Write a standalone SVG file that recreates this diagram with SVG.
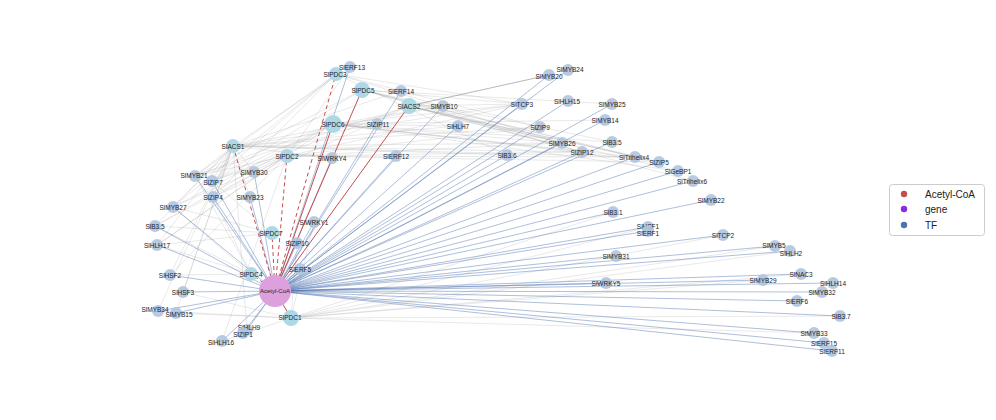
<svg xmlns="http://www.w3.org/2000/svg" width="996" height="420" viewBox="0 0 996 420">
<style>
.g{stroke:#9a9a9a;stroke-opacity:.28;stroke-width:.8}
.gd{stroke:#888;stroke-opacity:.6;stroke-width:1}
.b{stroke:#4c72b0;stroke-opacity:.5;stroke-width:.9}
.r{stroke:#c44e52;stroke-width:1}
.rd{stroke:#c44e52;stroke-width:1;stroke-dasharray:4 3}
.gene{fill:#add8e6}
.tf{fill:#b0c4de;fill-opacity:.9}
.ac{fill:#dda0dd}
text{font-family:"Liberation Sans",Arial,sans-serif;font-size:6.5px;fill:#222;text-anchor:middle}
.lg{font-size:10px;text-anchor:start;fill:#222}
</style>
<rect width="996" height="420" fill="#fff"/>
<g id="connectors">
<g id="gray-edges">
<line class="g" x1="233" y1="146" x2="195" y2="176"/><line class="g" x1="233" y1="146" x2="212" y2="181"/><line class="g" x1="233" y1="146" x2="213" y2="197"/><line class="g" x1="233" y1="146" x2="173" y2="207"/><line class="g" x1="233" y1="146" x2="155" y2="226"/><line class="g" x1="233" y1="146" x2="157" y2="245"/><line class="g" x1="233" y1="146" x2="170" y2="275"/><line class="g" x1="233" y1="146" x2="183" y2="292"/><line class="g" x1="233" y1="146" x2="158" y2="311"/><line class="g" x1="233" y1="146" x2="176" y2="313"/><line class="g" x1="233" y1="146" x2="254" y2="172"/><line class="g" x1="233" y1="146" x2="250" y2="197"/><line class="g" x1="233" y1="146" x2="522" y2="104"/><line class="g" x1="233" y1="146" x2="540" y2="127"/><line class="g" x1="233" y1="146" x2="562" y2="143"/><line class="g" x1="233" y1="146" x2="507" y2="155"/><line class="g" x1="233" y1="146" x2="458" y2="126"/><line class="g" x1="233" y1="146" x2="443" y2="106"/><line class="g" x1="233" y1="146" x2="582" y2="152"/><line class="g" x1="233" y1="146" x2="635" y2="157"/><line class="g" x1="233" y1="146" x2="401" y2="91"/><line class="g" x1="233" y1="146" x2="350" y2="67"/><line class="g" x1="233" y1="146" x2="332" y2="158"/><line class="g" x1="233" y1="146" x2="247" y2="330"/>
<line class="g" x1="287" y1="156" x2="195" y2="176"/><line class="g" x1="287" y1="156" x2="212" y2="181"/><line class="g" x1="287" y1="156" x2="213" y2="197"/><line class="g" x1="287" y1="156" x2="173" y2="207"/><line class="g" x1="287" y1="156" x2="155" y2="226"/><line class="g" x1="287" y1="156" x2="157" y2="245"/><line class="g" x1="287" y1="156" x2="170" y2="275"/><line class="g" x1="287" y1="156" x2="522" y2="104"/><line class="g" x1="287" y1="156" x2="540" y2="127"/><line class="g" x1="287" y1="156" x2="562" y2="143"/><line class="g" x1="287" y1="156" x2="582" y2="152"/><line class="g" x1="287" y1="156" x2="635" y2="157"/><line class="g" x1="287" y1="156" x2="659" y2="162"/><line class="g" x1="287" y1="156" x2="350" y2="67"/><line class="g" x1="287" y1="156" x2="222" y2="341"/>
<line class="g" x1="333" y1="124" x2="195" y2="176"/><line class="g" x1="333" y1="124" x2="212" y2="181"/><line class="g" x1="333" y1="124" x2="173" y2="207"/><line class="g" x1="333" y1="124" x2="155" y2="226"/><line class="g" x1="333" y1="124" x2="157" y2="245"/><line class="g" x1="333" y1="124" x2="522" y2="104"/><line class="g" x1="333" y1="124" x2="562" y2="143"/><line class="g" x1="333" y1="124" x2="582" y2="152"/><line class="g" x1="333" y1="124" x2="635" y2="157"/><line class="g" x1="333" y1="124" x2="659" y2="162"/><line class="g" x1="333" y1="124" x2="678" y2="171"/><line class="g" x1="333" y1="124" x2="612" y2="142"/><line class="g" x1="333" y1="124" x2="605" y2="120"/><line class="g" x1="333" y1="124" x2="458" y2="126"/><line class="g" x1="333" y1="124" x2="443" y2="106"/>
<line class="g" x1="336" y1="74" x2="195" y2="176"/><line class="g" x1="336" y1="74" x2="212" y2="181"/><line class="g" x1="336" y1="74" x2="213" y2="197"/><line class="g" x1="336" y1="74" x2="173" y2="207"/><line class="g" x1="336" y1="74" x2="522" y2="104"/><line class="g" x1="336" y1="74" x2="540" y2="127"/><line class="g" x1="336" y1="74" x2="562" y2="143"/><line class="g" x1="336" y1="74" x2="507" y2="155"/>
<line class="g" x1="362" y1="90" x2="195" y2="176"/><line class="g" x1="362" y1="90" x2="212" y2="181"/><line class="g" x1="362" y1="90" x2="522" y2="104"/><line class="g" x1="362" y1="90" x2="562" y2="143"/><line class="g" x1="362" y1="90" x2="582" y2="152"/><line class="g" x1="362" y1="90" x2="635" y2="157"/><line class="g" x1="362" y1="90" x2="612" y2="142"/><line class="g" x1="362" y1="90" x2="659" y2="162"/><line class="g" x1="362" y1="90" x2="612" y2="104"/>
<line class="gd" x1="409" y1="106" x2="549" y2="75"/><line class="g" x1="409" y1="106" x2="522" y2="104"/><line class="g" x1="409" y1="106" x2="562" y2="143"/><line class="g" x1="409" y1="106" x2="582" y2="152"/><line class="g" x1="409" y1="106" x2="635" y2="157"/><line class="g" x1="409" y1="106" x2="659" y2="162"/><line class="g" x1="409" y1="106" x2="678" y2="171"/><line class="g" x1="409" y1="106" x2="693" y2="181"/><line class="g" x1="409" y1="106" x2="195" y2="176"/><line class="g" x1="409" y1="106" x2="212" y2="181"/><line class="g" x1="409" y1="106" x2="213" y2="197"/>
<line class="g" x1="291" y1="318" x2="763" y2="280"/><line class="g" x1="291" y1="318" x2="801" y2="274"/><line class="g" x1="291" y1="318" x2="775" y2="246"/><line class="g" x1="291" y1="318" x2="790" y2="251"/><line class="g" x1="291" y1="318" x2="814" y2="333"/><line class="g" x1="291" y1="318" x2="840" y2="316"/><line class="g" x1="291" y1="318" x2="723" y2="235"/><line class="g" x1="291" y1="318" x2="613" y2="212"/><line class="g" x1="291" y1="318" x2="648" y2="227"/><line class="g" x1="291" y1="318" x2="158" y2="311"/><line class="g" x1="291" y1="318" x2="176" y2="313"/><line class="g" x1="291" y1="318" x2="222" y2="341"/><line class="g" x1="291" y1="318" x2="183" y2="292"/><line class="g" x1="291" y1="318" x2="314" y2="222"/><line class="g" x1="291" y1="318" x2="297" y2="243"/>
<line class="g" x1="251" y1="274" x2="170" y2="275"/><line class="g" x1="251" y1="274" x2="195" y2="176"/><line class="g" x1="251" y1="274" x2="213" y2="197"/><line class="g" x1="251" y1="274" x2="155" y2="226"/><line class="g" x1="251" y1="274" x2="157" y2="245"/><line class="g" x1="251" y1="274" x2="173" y2="207"/>
<line class="g" x1="272" y1="233" x2="173" y2="207"/><line class="g" x1="272" y1="233" x2="157" y2="245"/><line class="g" x1="272" y1="233" x2="155" y2="226"/><line class="g" x1="272" y1="233" x2="212" y2="181"/>
</g>
<g id="blue-edges">
<line class="b" x1="275" y1="291" x2="350" y2="67"/><line class="b" x1="275" y1="291" x2="401" y2="91"/><line class="b" x1="275" y1="291" x2="443" y2="106"/><line class="b" x1="275" y1="291" x2="377" y2="124"/><line class="b" x1="275" y1="291" x2="458" y2="126"/><line class="b" x1="275" y1="291" x2="332" y2="158"/><line class="b" x1="275" y1="291" x2="396" y2="156"/><line class="b" x1="275" y1="291" x2="507" y2="155"/><line class="b" x1="275" y1="291" x2="549" y2="75"/><line class="b" x1="275" y1="291" x2="568" y2="70"/><line class="b" x1="275" y1="291" x2="522" y2="104"/><line class="b" x1="275" y1="291" x2="568" y2="101"/><line class="b" x1="275" y1="291" x2="612" y2="104"/><line class="b" x1="275" y1="291" x2="605" y2="120"/><line class="b" x1="275" y1="291" x2="540" y2="127"/><line class="b" x1="275" y1="291" x2="562" y2="143"/><line class="b" x1="275" y1="291" x2="612" y2="142"/><line class="b" x1="275" y1="291" x2="582" y2="152"/><line class="b" x1="275" y1="291" x2="635" y2="157"/><line class="b" x1="275" y1="291" x2="659" y2="162"/><line class="b" x1="275" y1="291" x2="678" y2="171"/><line class="b" x1="275" y1="291" x2="693" y2="181"/><line class="b" x1="275" y1="291" x2="711" y2="200"/><line class="b" x1="275" y1="291" x2="613" y2="212"/><line class="b" x1="275" y1="291" x2="648" y2="227"/><line class="b" x1="275" y1="291" x2="648" y2="231"/><line class="b" x1="275" y1="291" x2="723" y2="235"/><line class="b" x1="275" y1="291" x2="775" y2="246"/><line class="b" x1="275" y1="291" x2="790" y2="251"/><line class="b" x1="275" y1="291" x2="616" y2="256"/><line class="b" x1="275" y1="291" x2="801" y2="274"/><line class="b" x1="275" y1="291" x2="763" y2="280"/><line class="b" x1="275" y1="291" x2="833" y2="283"/><line class="b" x1="275" y1="291" x2="822" y2="292"/><line class="b" x1="275" y1="291" x2="606" y2="283"/><line class="b" x1="275" y1="291" x2="797" y2="301"/><line class="b" x1="275" y1="291" x2="840" y2="316"/><line class="b" x1="275" y1="291" x2="814" y2="333"/><line class="b" x1="275" y1="291" x2="824" y2="343"/><line class="b" x1="275" y1="291" x2="832" y2="351"/><line class="b" x1="275" y1="291" x2="254" y2="172"/><line class="b" x1="275" y1="291" x2="195" y2="176"/><line class="b" x1="275" y1="291" x2="212" y2="181"/><line class="b" x1="275" y1="291" x2="213" y2="197"/><line class="b" x1="275" y1="291" x2="250" y2="197"/><line class="b" x1="275" y1="291" x2="173" y2="207"/><line class="b" x1="275" y1="291" x2="155" y2="226"/><line class="b" x1="275" y1="291" x2="157" y2="245"/><line class="b" x1="275" y1="291" x2="314" y2="222"/><line class="b" x1="275" y1="291" x2="297" y2="243"/><line class="b" x1="275" y1="291" x2="300" y2="269"/><line class="b" x1="275" y1="291" x2="170" y2="275"/><line class="b" x1="275" y1="291" x2="183" y2="292"/><line class="b" x1="275" y1="291" x2="158" y2="311"/><line class="b" x1="275" y1="291" x2="176" y2="313"/><line class="b" x1="275" y1="291" x2="247" y2="330"/><line class="b" x1="275" y1="291" x2="243" y2="333"/><line class="b" x1="275" y1="291" x2="222" y2="341"/>
</g>
<g id="red-edges">
<line class="r" x1="275" y1="291" x2="362" y2="90"/><line class="r" x1="275" y1="291" x2="333" y2="124"/><line class="r" x1="275" y1="291" x2="409" y2="106"/><line class="r" x1="275" y1="291" x2="291" y2="318"/>
<line class="rd" x1="275" y1="291" x2="336" y2="74"/><line class="rd" x1="275" y1="291" x2="233" y2="146"/><line class="rd" x1="275" y1="291" x2="287" y2="156"/><line class="rd" x1="275" y1="291" x2="272" y2="233"/><line class="rd" x1="275" y1="291" x2="251" y2="274"/>
</g>
</g>
<g id="n-SlPDC3"><circle class="gene" cx="336" cy="74" r="7"/><text x="335" y="77">SlPDC3</text></g>
<g id="n-SlERF13"><circle class="tf" cx="350" cy="67" r="6"/><text x="352" y="69.5">SlERF13</text></g>
<g id="n-SlPDC5"><circle class="gene" cx="362" cy="90" r="8"/><text x="363" y="93">SlPDC5</text></g>
<g id="n-SlERF14"><circle class="tf" cx="401" cy="91" r="6"/><text x="401" y="94">SlERF14</text></g>
<g id="n-SlACS2"><circle class="gene" cx="409" cy="106" r="8"/><text x="409" y="109">SlACS2</text></g>
<g id="n-SlMYB10"><circle class="tf" cx="443" cy="106" r="6"/><text x="444" y="109">SlMYB10</text></g>
<g id="n-SlPDC6"><circle class="gene" cx="333" cy="124" r="9"/><text x="333" y="127">SlPDC6</text></g>
<g id="n-SlZIP11"><circle class="tf" cx="377" cy="124" r="6"/><text x="378" y="127">SlZIP11</text></g>
<g id="n-SlHLH7"><circle class="tf" cx="458" cy="126" r="6"/><text x="458" y="129">SlHLH7</text></g>
<g id="n-SlACS1"><circle class="gene" cx="233" cy="146" r="7"/><text x="233" y="149">SlACS1</text></g>
<g id="n-SlPDC2"><circle class="gene" cx="287" cy="156" r="7"/><text x="287" y="159">SlPDC2</text></g>
<g id="n-SlWRKY4"><circle class="tf" cx="332" cy="158" r="6"/><text x="332" y="161">SlWRKY4</text></g>
<g id="n-SlERF12"><circle class="tf" cx="396" cy="156" r="6"/><text x="396" y="159">SlERF12</text></g>
<g id="n-SlB3.6a"><circle class="tf" cx="507" cy="155" r="6"/><text x="507" y="158">SlB3.6</text></g>
<g id="n-SlMYB20"><circle class="tf" cx="549" cy="75" r="6"/><text x="549" y="78.5">SlMYB20</text></g>
<g id="n-SlMYB24"><circle class="tf" cx="568" cy="70" r="6"/><text x="570" y="71.5">SlMYB24</text></g>
<g id="n-SlTCP3"><circle class="tf" cx="522" cy="104" r="6"/><text x="522" y="107">SlTCP3</text></g>
<g id="n-SlHLH15"><circle class="tf" cx="568" cy="101" r="6"/><text x="567" y="104">SlHLH15</text></g>
<g id="n-SlMYB25"><circle class="tf" cx="612" cy="104" r="6"/><text x="612" y="107">SlMYB25</text></g>
<g id="n-SlMYB14"><circle class="tf" cx="605" cy="120" r="6"/><text x="605" y="123">SlMYB14</text></g>
<g id="n-SlZIP9"><circle class="tf" cx="540" cy="127" r="6"/><text x="540" y="130">SlZIP9</text></g>
<g id="n-SlMYB26"><circle class="tf" cx="562" cy="143" r="6"/><text x="562" y="146">SlMYB26</text></g>
<g id="n-SlB3.5b"><circle class="tf" cx="612" cy="142" r="6"/><text x="612" y="145">SlB3.5</text></g>
<g id="n-SlZIP12"><circle class="tf" cx="582" cy="152" r="6"/><text x="582" y="155">SlZIP12</text></g>
<g id="n-SlTrihelix4"><circle class="tf" cx="635" cy="157" r="6"/><text x="634" y="160">SlTrihelix4</text></g>
<g id="n-SlZIP5"><circle class="tf" cx="659" cy="162" r="6"/><text x="659" y="165">SlZIP5</text></g>
<g id="n-SlGeBP1"><circle class="tf" cx="678" cy="171" r="6"/><text x="678" y="174">SlGeBP1</text></g>
<g id="n-SlTrihelix6"><circle class="tf" cx="693" cy="181" r="6"/><text x="692" y="184">SlTrihelix6</text></g>
<g id="n-SlMYB22"><circle class="tf" cx="711" cy="200" r="6"/><text x="711" y="203">SlMYB22</text></g>
<g id="n-SlB3.1"><circle class="tf" cx="613" cy="212" r="6"/><text x="613" y="215">SlB3.1</text></g>
<g id="n-SlHSF1"><circle class="tf" cx="648" cy="227" r="6"/><text x="648" y="228.5">SlHSF1</text></g>
<g id="n-SlERF1"><circle class="tf" cx="648" cy="231" r="6"/><text x="648" y="235.5">SlERF1</text></g>
<g id="n-SlTCP2"><circle class="tf" cx="723" cy="235" r="6"/><text x="723" y="238">SlTCP2</text></g>
<g id="n-SlMYB5"><circle class="tf" cx="775" cy="246" r="6"/><text x="774" y="248">SlMYB5</text></g>
<g id="n-SlHLH2"><circle class="tf" cx="790" cy="251" r="6"/><text x="791" y="255.5">SlHLH2</text></g>
<g id="n-SlMYB31"><circle class="tf" cx="616" cy="256" r="6"/><text x="616" y="259">SlMYB31</text></g>
<g id="n-SlNAC3"><circle class="tf" cx="801" cy="274" r="6"/><text x="801" y="277">SlNAC3</text></g>
<g id="n-SlMYB29"><circle class="tf" cx="763" cy="280" r="6"/><text x="763" y="283">SlMYB29</text></g>
<g id="n-SlHLH14"><circle class="tf" cx="833" cy="283" r="6"/><text x="833" y="286">SlHLH14</text></g>
<g id="n-SlMYB32"><circle class="tf" cx="822" cy="292" r="6"/><text x="822" y="295">SlMYB32</text></g>
<g id="n-SlWRKY5"><circle class="tf" cx="606" cy="283" r="6"/><text x="606" y="286">SlWRKY5</text></g>
<g id="n-SlERF6"><circle class="tf" cx="797" cy="301" r="6"/><text x="797" y="304">SlERF6</text></g>
<g id="n-SlB3.7"><circle class="tf" cx="840" cy="316" r="6"/><text x="841" y="319">SlB3.7</text></g>
<g id="n-SlMYB33"><circle class="tf" cx="814" cy="333" r="6"/><text x="814" y="336">SlMYB33</text></g>
<g id="n-SlERF15"><circle class="tf" cx="824" cy="343" r="6"/><text x="824" y="346">SlERF15</text></g>
<g id="n-SlERF11"><circle class="tf" cx="832" cy="351" r="6"/><text x="832" y="354">SlERF11</text></g>
<g id="n-SlMYB30"><circle class="tf" cx="254" cy="172" r="6"/><text x="254" y="175">SlMYB30</text></g>
<g id="n-SlMYB21"><circle class="tf" cx="195" cy="176" r="6"/><text x="194" y="178">SlMYB21</text></g>
<g id="n-SlZIP7"><circle class="tf" cx="212" cy="181" r="6"/><text x="213" y="185">SlZIP7</text></g>
<g id="n-SlZIP4"><circle class="tf" cx="213" cy="197" r="6"/><text x="213" y="200">SlZIP4</text></g>
<g id="n-SlMYB23"><circle class="tf" cx="250" cy="197" r="6"/><text x="250" y="200">SlMYB23</text></g>
<g id="n-SlMYB27"><circle class="tf" cx="173" cy="207" r="6"/><text x="173" y="210">SlMYB27</text></g>
<g id="n-SlB3.5a"><circle class="tf" cx="155" cy="226" r="6"/><text x="155" y="229">SlB3.5</text></g>
<g id="n-SlHLH17"><circle class="tf" cx="157" cy="245" r="6"/><text x="157" y="248">SlHLH17</text></g>
<g id="n-SlPDC7"><circle class="gene" cx="272" cy="233" r="7"/><text x="271" y="236">SlPDC7</text></g>
<g id="n-SlWRKY1"><circle class="tf" cx="314" cy="222" r="6"/><text x="314" y="225">SlWRKY1</text></g>
<g id="n-SlZIP10"><circle class="tf" cx="297" cy="243" r="6"/><text x="297" y="246">SlZIP10</text></g>
<g id="n-SlERF5"><circle class="tf" cx="300" cy="269" r="6"/><text x="300" y="272">SlERF5</text></g>
<g id="n-SlPDC4"><circle class="gene" cx="251" cy="274" r="7"/><text x="251" y="277">SlPDC4</text></g>
<g id="n-SlHSF2"><circle class="tf" cx="170" cy="275" r="6"/><text x="170" y="278">SlHSF2</text></g>
<g id="n-SlHSF3"><circle class="tf" cx="183" cy="292" r="6"/><text x="183" y="295">SlHSF3</text></g>
<g id="n-SlMYB34"><circle class="tf" cx="158" cy="311" r="6"/><text x="155" y="312">SlMYB34</text></g>
<g id="n-SlMYB15"><circle class="tf" cx="176" cy="313" r="6"/><text x="179" y="317">SlMYB15</text></g>
<g id="n-SlPDC1"><circle class="gene" cx="291" cy="318" r="8"/><text x="290" y="320">SlPDC1</text></g>
<g id="n-SlHLH9"><circle class="tf" cx="247" cy="330" r="6"/><text x="249" y="330">SlHLH9</text></g>
<g id="n-SlZIP1"><circle class="tf" cx="243" cy="333" r="6"/><text x="243" y="337">SlZIP1</text></g>
<g id="n-SlHLH16"><circle class="tf" cx="222" cy="341" r="6"/><text x="221" y="345">SlHLH16</text></g>
<g id="n-Acetyl-CoA"><circle class="ac" cx="275" cy="291" r="16"/><text x="275" y="293" style="font-size:6px">Acetyl-CoA</text></g>
<g id="legend">
<rect x="889.5" y="184.5" width="95" height="51" rx="3" fill="#fff" stroke="#ccc"/>
<circle cx="904" cy="194" r="3.2" fill="#c44e52"/><text class="lg" x="925" y="197.5">Acetyl-CoA</text>
<circle cx="904" cy="209" r="3.2" fill="#8a2be2"/><text class="lg" x="925" y="212.5">gene</text>
<circle cx="904" cy="225" r="3.2" fill="#4c72b0"/><text class="lg" x="925" y="228.5">TF</text>
</g>
</svg>
